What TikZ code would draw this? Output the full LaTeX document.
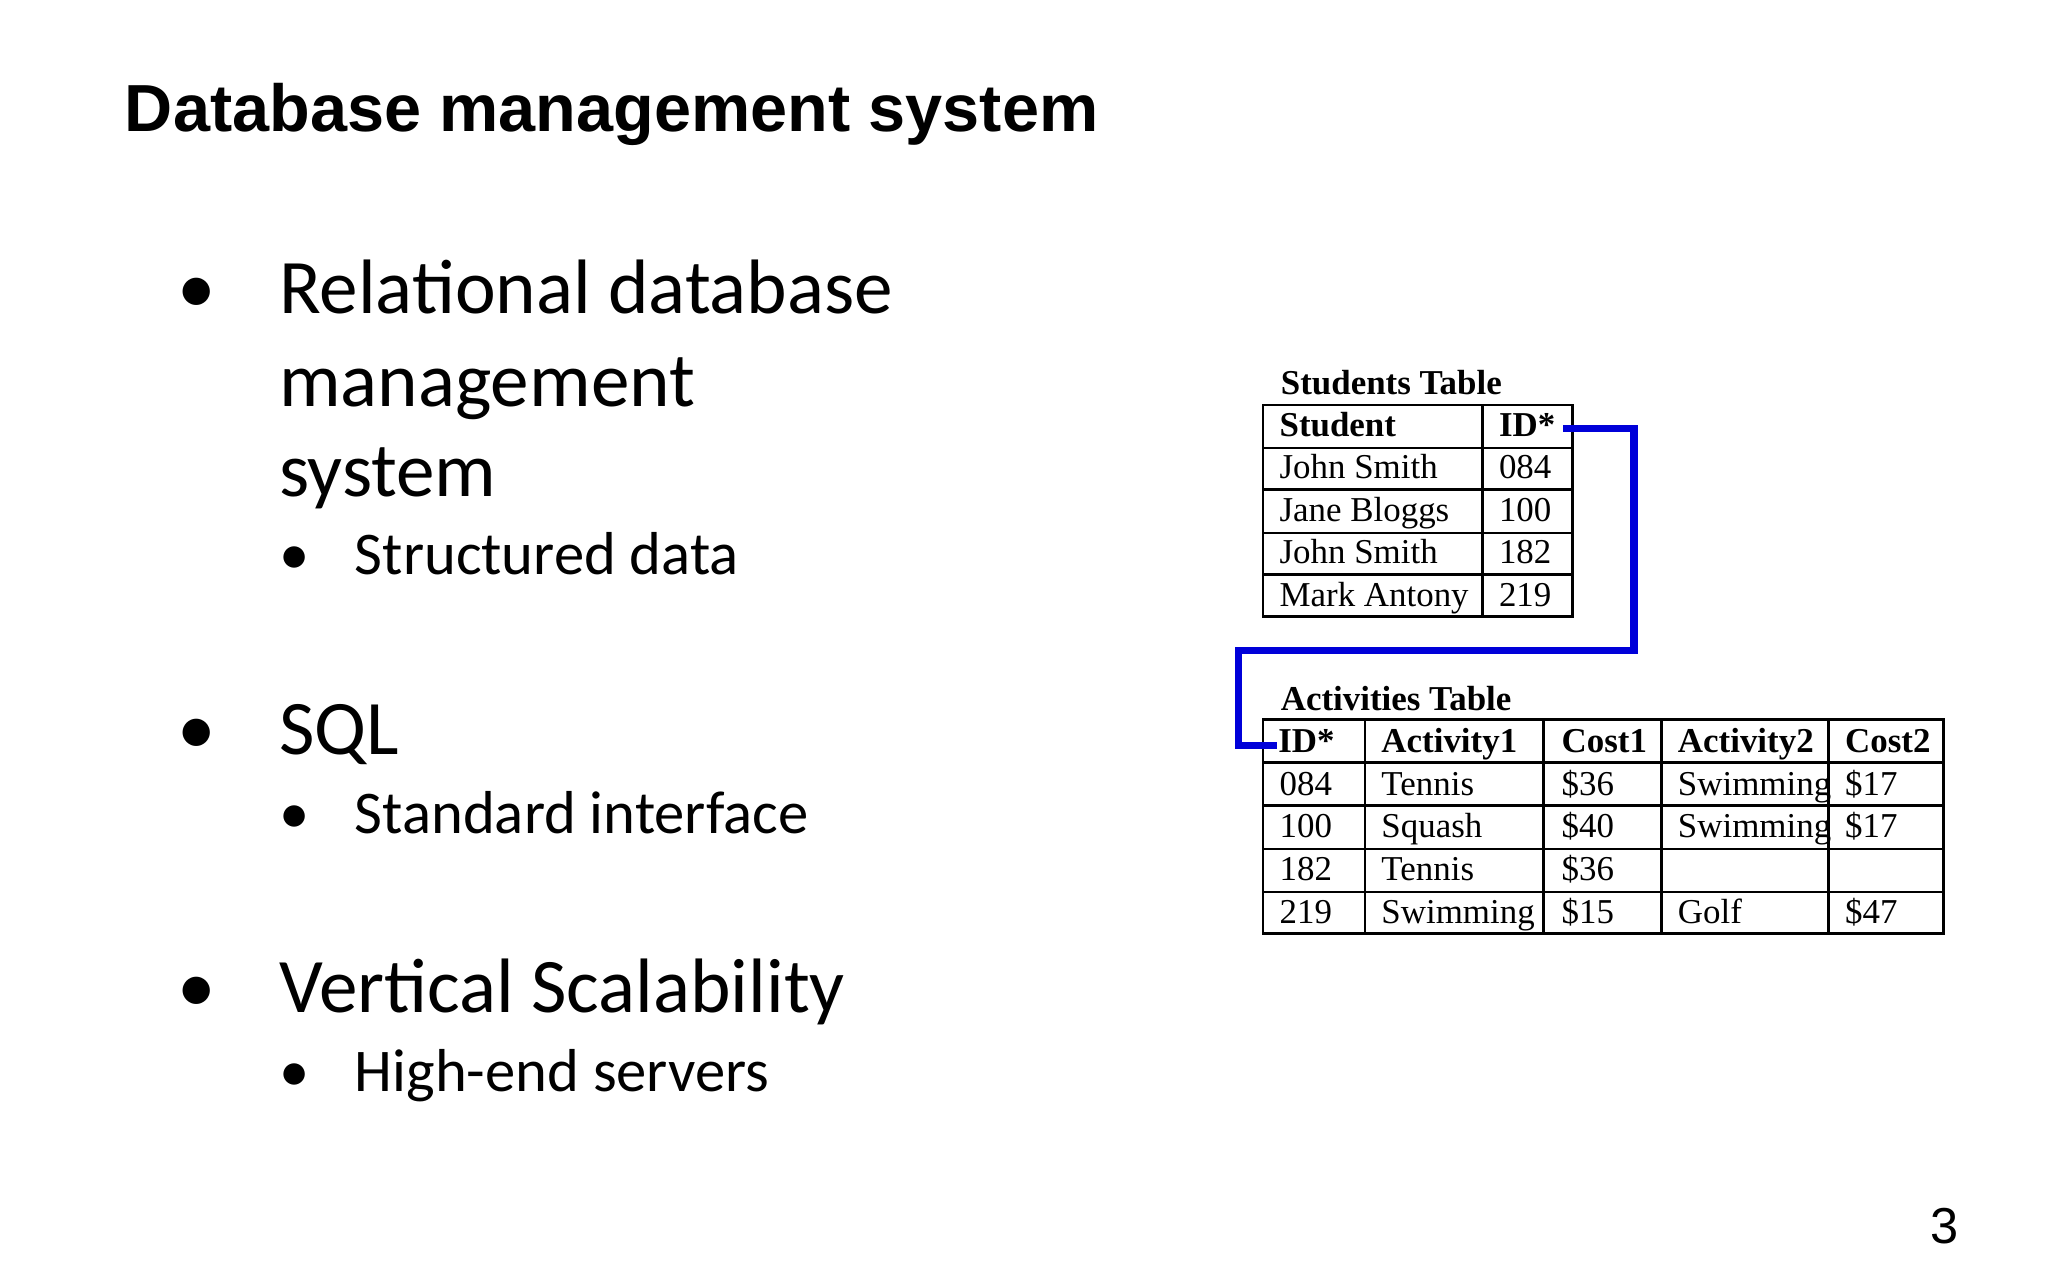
\documentclass[tikz,border=0pt]{standalone}
\usepackage{fontspec}
\setmainfont{Liberation Serif}
\newfontfamily\arialf{Liberation Sans}
\newfontfamily\calf{Carlito}
\begin{document}
\begin{tikzpicture}[x=0.01cm,y=-0.01cm,
  ttl/.style={anchor=base west,inner sep=0,font=\arialf\bfseries\fontsize{14.5}{16}\selectfont},
  big/.style={anchor=base west,inner sep=0,font=\calf\fontsize{16.8}{20}\selectfont},
  small/.style={anchor=base west,inner sep=0,font=\calf\fontsize{13.2}{16}\selectfont},
  cell/.style={anchor=base west,inner sep=0,font=\fontsize{7.6}{9}\selectfont},
  hcell/.style={cell,font=\bfseries\fontsize{7.6}{9}\selectfont},
  grid/.style={draw=black,line width=0.6pt},
  link/.style={draw=blue!85!black,line width=1.6pt}]
\useasboundingbox[fill=white] (0,0) rectangle (1568,980);
\node[ttl] (title) at (95,101) {Database management system};
% bullets
\node[big] (b1) at (135,240) {\textbullet};
\node[big] (t1) at (213,240) {Relational database};
\node[big] (t1b) at (213,311) {management};
\node[big] (t1c) at (213,380) {system};
\node[small] (s1d) at (213,440) {\textbullet};
\node[small] (s1) at (271,440) {Structured data};
\node[big] (b2) at (135,578) {\textbullet};
\node[big] (t2) at (213,578) {SQL};
\node[small] (s2d) at (213,638) {\textbullet};
\node[small] (s2) at (271,638) {Standard interface};
\node[big] (b3) at (135,775) {\textbullet};
\node[big] (t3) at (213,775) {Vertical Scalability};
\node[small] (s3d) at (213,836) {\textbullet};
\node[small] (s3) at (271,836) {High-end servers};
\node[anchor=base east,inner sep=0,font=\arialf\fontsize{11}{13}\selectfont] (pg) at (1500,952) {3};
% Students table
\node[hcell] (stt) at (980,302) {Students Table};
\draw[grid] (967,310) rectangle (1204,472);
\foreach \y in {343,375,408,440} \draw[grid] (967,\y) -- (1204,\y);
\draw[grid] (1135,310) -- (1135,472);
\node[hcell] (sh1) at (979,334) {Student};
\node[hcell] (sh2) at (1147,334) {ID*};
\foreach \n/\i [count=\k] in {John Smith/084,Jane Bloggs/100,John Smith/182,Mark Antony/219}{
  \node[cell] (sa\k) at (979,334+32.5*\k) {\n};
  \node[cell] (sb\k) at (1147,334+32.5*\k) {\i};
}
% Activities table
\node[hcell] (att) at (980,544) {Activities Table};
\draw[grid] (967,551) rectangle (1488,715);
\foreach \y in {584,617,650,683} \draw[grid] (967,\y) -- (1488,\y);
\foreach \x in {1045,1182,1272,1400} \draw[grid] (\x,551) -- (\x,715);
\node[hcell] (ah1) at (978,576) {ID*};
\node[hcell] (ah2) at (1057,576) {Activity1};
\node[hcell] (ah3) at (1195,576) {Cost1};
\node[hcell] (ah4) at (1284,576) {Activity2};
\node[hcell] (ah5) at (1412,576) {Cost2};
\foreach \a/\b/\c/\d/\e [count=\k] in {084/Tennis/\$36/Swimming/\$17,100/Squash/\$40/Swimming/\$17,182/Tennis/\$36//,219/Swimming/\$15/Golf/\$47}{
  \node[cell] (r\k a) at (979,576+32.8*\k) {\a};
  \node[cell] (r\k b) at (1057,576+32.8*\k) {\b};
  \node[cell] (r\k c) at (1195,576+32.8*\k) {\c};
  \node[cell] (r\k d) at (1284,576+32.8*\k) {\d};
  \node[cell] (r\k e) at (1412,576+32.8*\k) {\e};
}
\coordinate (l1) at (1197,328);
\coordinate (l2) at (978,571);
\draw[link] (l1) -- (1251,328) -- (1251,498) -- (948,498) -- (948,571) -- (l2);
\end{tikzpicture}
\end{document}
